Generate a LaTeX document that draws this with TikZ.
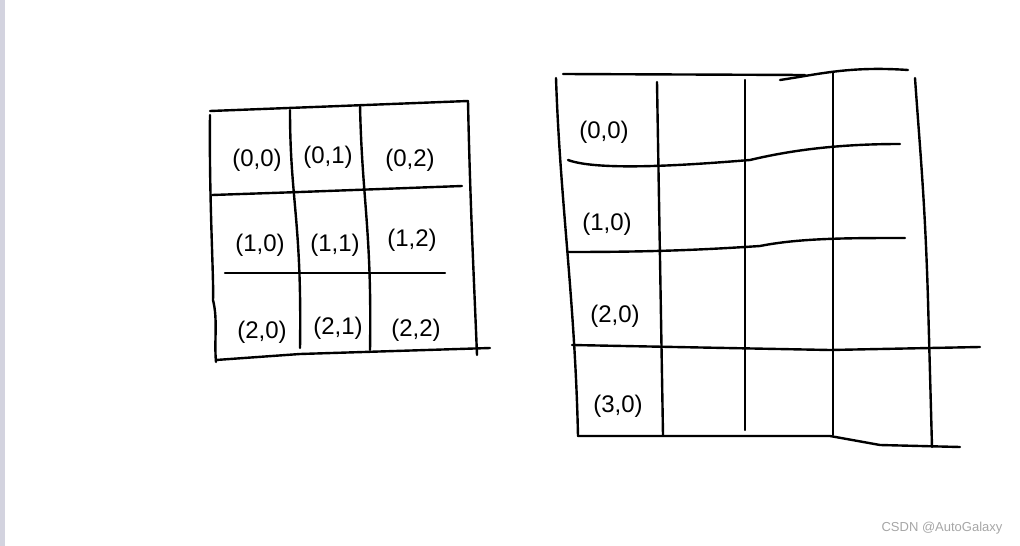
\documentclass[tikz,border=0pt]{standalone}
\usepackage{fontspec}
\setmainfont{Liberation Sans}
\begin{document}
\begin{tikzpicture}[x=1pt,y=-1pt,line width=2.4pt,line cap=round,line join=round,
  lbl/.style={font=\fontsize{24}{28}\selectfont},
  ink/.style={draw=black}]
\useasboundingbox (0,0) rectangle (1020,546);
\fill[blue!15!gray!30] (0,0) rectangle (5,546);
% left grid
\draw[ink] (210,111) -- (340,106) -- (468,101);
\draw[ink] (210,115) .. controls (209,200) and (214,280) .. (213,300) .. controls (218,320) and (214,340) .. (216,362);
\draw[ink] (216,360) -- (300,354) -- (490,348);
\draw[ink] (468,101) .. controls (470,200) and (474,280) .. (477,355);
\draw[ink] (212,195) -- (300,192) -- (462,186);
\draw[ink] (225,273) -- (445,273);
\draw[ink] (290,110) .. controls (290,200) and (302,220) .. (300,348);
\draw[ink] (360,105) .. controls (362,200) and (372,230) .. (370,350);
\node[lbl] (a00) at (257,160) {(0,0)};
\node[lbl] (a01) at (328,157) {(0,1)};
\node[lbl] (a02) at (410,160) {(0,2)};
\node[lbl] (a10) at (260,245) {(1,0)};
\node[lbl] (a11) at (335,245) {(1,1)};
\node[lbl] (a12) at (412,240) {(1,2)};
\node[lbl] (a20) at (262,332) {(2,0)};
\node[lbl] (a21) at (338,328) {(2,1)};
\node[lbl] (a22) at (416,330) {(2,2)};
% right grid
\draw[ink] (563,74) -- (805,75);
\draw[ink] (780,80) .. controls (820,74) and (850,66) .. (908,70);
\draw[ink] (556,78) .. controls (560,200) and (575,300) .. (578,436);
\draw[ink] (578,436) -- (830,436) -- (880,445) -- (960,447);
\draw[ink] (657,82) -- (663,435);
\draw[ink] (745,80) -- (745,430);
\draw[ink] (833,72) -- (833,435);
\draw[ink] (915,78) .. controls (920,150) and (925,200) .. (928,300) -- (932,447);
\draw[ink] (568,160) .. controls (600,172) and (700,164) .. (750,160) .. controls (800,148) and (850,144) .. (900,144);
\draw[ink] (568,252) .. controls (650,252) and (700,250) .. (760,246) .. controls (800,238) and (850,238) .. (905,238);
\draw[ink] (572,345) -- (830,350) -- (980,347);
\node[lbl] (b00) at (604,132) {(0,0)};
\node[lbl] (b10) at (607,224) {(1,0)};
\node[lbl] (b20) at (615,316) {(2,0)};
\node[lbl] (b30) at (618,406) {(3,0)};
\node[font=\fontsize{13}{15}\selectfont,text=gray!70] (wm) at (942,528) {CSDN @AutoGalaxy};
\end{tikzpicture}
\end{document}
